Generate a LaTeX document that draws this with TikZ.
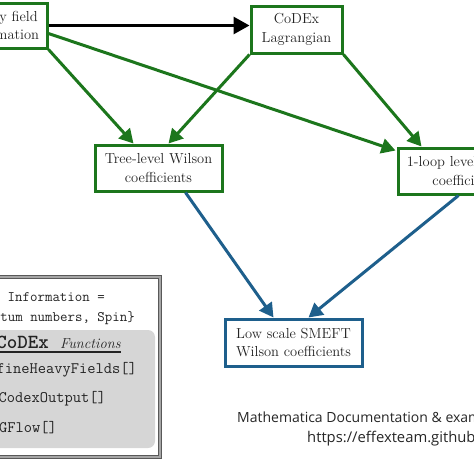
\documentclass[tikz,border=0pt]{standalone}
\usepackage{fontspec}
\newfontfamily\notefont{Open Sans}
\usetikzlibrary{arrows.meta,calc}
\definecolor{gr}{RGB}{28,118,28}
\definecolor{bl}{RGB}{30,95,140}
\definecolor{txt}{RGB}{35,35,35}
\begin{document}
\begin{tikzpicture}[x=1pt,y=-1pt,
  box/.style={draw=#1, line width=3pt, fill=white, align=center,
    font=\fontsize{14.5}{18.5}\selectfont, text=txt, inner sep=0pt},
  garrow/.style={draw=gr, line width=3pt, -{Triangle[length=14pt,width=15pt]}},
  barrow/.style={draw=bl, line width=3pt, -{Triangle[length=14pt,width=15pt]}},
  karrow/.style={draw=black, line width=3pt, -{Triangle[length=16pt,width=17pt]}},
  panel/.style={draw=black!65, line width=1.2pt, double=black!35, double distance=1.3pt},
  ttinfo/.style={font=\ttfamily\fontsize{14.5}{17}\selectfont, text=txt, inner sep=0pt, anchor=base east},
  ttfun/.style={font=\ttfamily\fontsize{16}{19}\selectfont, text=txt, inner sep=0pt, anchor=base east},
  note/.style={font=\notefont\fontsize{14}{17}\selectfont, text=black!85, inner sep=0pt, anchor=base west}]
\useasboundingbox (0,0) rectangle (474,474);
\clip (0,0) rectangle (474,474);

% boxes
\node[box=gr, minimum width=88pt, minimum height=45pt] (heavy) at (3,25.5) {Heavy field\\information};
\node[box=gr, minimum width=91pt, minimum height=47pt] (codex) at (296.5,29.5) {CoDEx\\Lagrangian};
\node[box=gr, minimum width=127pt, minimum height=46pt] (tree) at (158.5,168) {Tree-level Wilson\\coefficients};
\node[box=gr, minimum width=136pt, minimum height=46pt] (loop) at (466,171) {1-loop level Wilson\\coefficients};
\node[box=bl, minimum width=137pt, minimum height=47pt] (low) at (293.5,342.5) {Low scale SMEFT\\Wilson coefficients};

% connectors
\draw[karrow] (heavy.east) -- (heavy.east -| codex.west);
\draw[garrow] (heavy.south east) -- ($(tree.north west)+(40,0)$);
\draw[garrow] ($(heavy.east)+(0,8)$) -- ($(loop.north west)+(-1,4)$);
\draw[garrow] (codex.south west) -- ($(tree.north west)+(75,0)$);
\draw[garrow] (codex.south east) -- ($(loop.north west)+(25,0)$);
\draw[barrow] ($(tree.south west)+(92,0)$) -- ($(low.north west)+(50,0)$);
\draw[barrow] ($(loop.south west)+(62,0)$) -- ($(low.north west)+(85,0)$);

% left panel
\draw[panel] (-200,277) rectangle (160,457);
\fill[black!16, rounded corners=7pt] (-200,330) rectangle (155,448);
\node[ttinfo] (info1) at (105,301) {Field Information =};
\node[ttinfo] (info2) at (135,321) {\{Quantum numbers, Spin\}};
\node[font=\ttfamily\bfseries\fontsize{20}{22}\selectfont, text=txt, inner sep=0pt, anchor=base east] (cdx) at (49,348) {CoDEx};
\node[font=\itshape\fontsize{14.5}{17}\selectfont, text=txt, inner sep=0pt, anchor=base west] (fun) at (60,348) {Functions};
\draw[txt, line width=1.2pt] (-200,352) -- (fun.east |- 0,352);
\node[ttfun] (f1) at (137,373) {DefineHeavyFields[]};
\node[ttfun] (f2) at (106,402) {CodexOutput[]};
\node[ttfun] (f3) at (57,432) {RGFlow[]};

% note
\node[note] (n1) at (237,422) {Mathematica Documentation \& examples};
\node[note, font=\notefont\fontsize{14.8}{17}\selectfont] (n2) at (307,442) {https://effexteam.github.io/CoDEx};
\end{tikzpicture}
\end{document}
